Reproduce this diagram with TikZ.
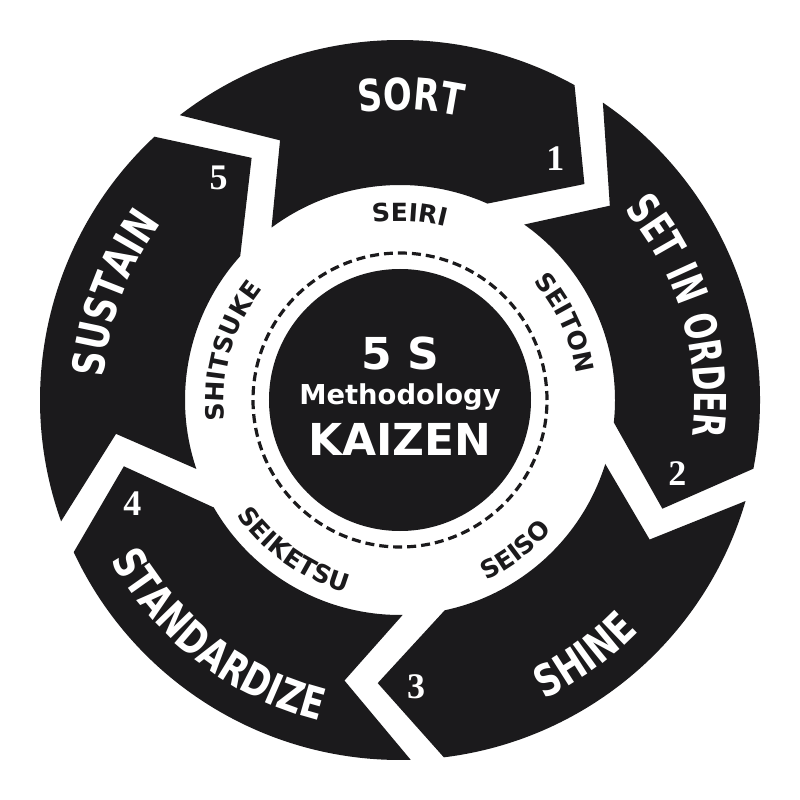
\documentclass[tikz,border=0pt]{standalone}
\usepackage{fontspec}
\usetikzlibrary{decorations.text}
\newfontfamily\djv{DejaVu Sans}
\newfontfamily\djvc{DejaVu Sans}[FakeStretch=0.77]
\newfontfamily\djvcc{DejaVu Sans}[FakeStretch=0.70]
\newfontfamily\numfnt{Liberation Serif}
\definecolor{ink}{RGB}{27,26,28}
\newcommand\mainfmt{\djvc\bfseries\fontsize{44}{44}\selectfont}
\newcommand\mainfmtc{\djvcc\bfseries\fontsize{44}{44}\selectfont}
\newcommand\innerfmt{\djv\bfseries\fontsize{25}{25}\selectfont}
\tikzset{
  seg/.style={fill=ink},
  numlbl/.style={text=white, inner sep=0pt, font=\numfnt\bfseries\fontsize{36}{36}\selectfont},
  ctrlbl/.style={text=white, inner sep=0pt, anchor=base},
  dashring/.style={draw=ink, line width=3.2pt, dash pattern=on 9pt off 5pt},
}
\begin{document}
\begin{tikzpicture}[x=1pt,y=1pt]
\useasboundingbox[fill=white] (-400,-400) rectangle (400,400);
% five arrow segments
\foreach \k/\n in {0/1,1/2,2/3,3/4,4/5}{
  \begin{scope}[rotate=-72*\k]
    \fill[seg] (127.7:360) arc[start angle=127.7,end angle=61,radius=360]
      -- (49.5:284) -- (66:215) arc[start angle=66,end angle=126.7,radius=215]
      -- (114.8:286) -- cycle;
    \node[numlbl] (num\n) at (57.2:287) {\n};
  \end{scope}
}
% main labels (outer ring)
\path[decorate,decoration={text along path,text align=center,text color=white,
  text={|\mainfmt|SORT}}] (158:290) arc[start angle=158,end angle=18,radius=290];
\path[decorate,decoration={text along path,text align=center,text color=white,
  text={|\mainfmtc|SET IN ORDER}}] (106.6:294) arc[start angle=106.6,end angle=-73.4,radius=294];
\path[decorate,decoration={text along path,text align=center,text color=white,
  text={|\mainfmt|SHINE}}] (-124.15:332) arc[start angle=-124.15,end angle=15.85,radius=332];
\path[decorate,decoration={text along path,text align=center,text color=white,
  text={|\mainfmt|STANDARDIZE}}] (142.5:331) arc[start angle=142.5,end angle=322.5,radius=331];
\path[decorate,decoration={text along path,text align=center,text color=white,
  text={|\mainfmt|SUSTAIN}}] (239.5:297) arc[start angle=239.5,end angle=79.5,radius=297];
% inner labels (white ring)
\path[decorate,decoration={text along path,text align=center,text color=ink,
  text={|\innerfmt|SEIRI}}] (147:179) arc[start angle=147,end angle=27,radius=179];
\path[decorate,decoration={text along path,text align=center,text color=ink,
  text={|\innerfmt|SEITON}}] (85:178) arc[start angle=85,end angle=-35,radius=178];
\path[decorate,decoration={text along path,text align=center,text color=ink,
  text={|\innerfmt|SEISO}}] (-112.5:200) arc[start angle=-112.5,end angle=7.5,radius=200];
\path[decorate,decoration={text along path,text align=center,text color=ink,
  text={|\innerfmt|SEIKETSU}}] (174.8:200) arc[start angle=174.8,end angle=294.8,radius=200];
\path[decorate,decoration={text along path,text align=center,text color=ink,
  text={|\innerfmt|SHITSUKE}}] (223.8:176) arc[start angle=223.8,end angle=103.8,radius=176];
% centre
\draw[dashring] (0,0) circle[radius=147];
\fill[ink] (0,0) circle[radius=131];
\node[ctrlbl, font=\djv\bfseries\fontsize{44}{44}\selectfont] (fives) at (0,30) {5 S};
\node[ctrlbl, font=\djv\bfseries\fontsize{27.4}{27.4}\selectfont] (meth) at (0,-5) {Methodology};
\node[ctrlbl, font=\djv\bfseries\fontsize{44}{44}\selectfont] (kaizen) at (0,-55) {KAIZEN};
\end{tikzpicture}
\end{document}
